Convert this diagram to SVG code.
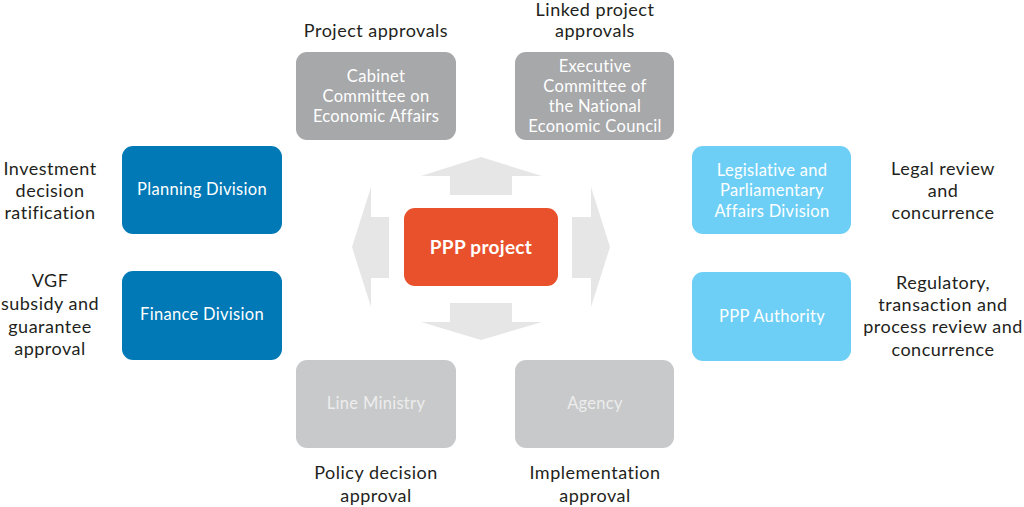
<svg xmlns="http://www.w3.org/2000/svg" width="1024" height="507" viewBox="0 0 1024 507">
<style>
.lbl{font-family:Lato,"Liberation Sans",sans-serif;font-size:18px;letter-spacing:0.5px;fill:#231F20;text-anchor:middle}
.bt{font-family:Lato,"Liberation Sans",sans-serif;font-size:16.5px;letter-spacing:0.3px;fill:#FFFFFF;text-anchor:middle}
.lt{fill:#EDEDED}
.arrow{fill:#E6E6E6}
</style>
<rect width="1024" height="507" fill="#FFFFFF"/>
<g id="connectors">
<polygon class="arrow" points="450,195 450,176 421,176 481,157 542,176 512,176 512,195"/>
<polygon class="arrow" points="450,303 450,322 421,322 481,340 542,322 512,322 512,303"/>
<polygon class="arrow" points="389,217 371,217 371,187 352,247 371,307 371,278 389,278"/>
<polygon class="arrow" points="572,217 591,217 591,187 610,247 591,307 591,278 572,278"/>
</g>
<g id="center">
<rect x="404" y="208" width="154" height="78" rx="11" fill="#E8512B"/>
<text class="bt" x="481" y="254" style="font-size:19px;font-weight:bold">PPP project</text>
</g>
<g id="cabinet">
<rect x="296" y="52" width="160" height="88" rx="11" fill="#A7A8AA"/>
<text class="bt" x="376" y="82">Cabinet</text>
<text class="bt" x="376" y="102">Committee on</text>
<text class="bt" x="376" y="122">Economic Affairs</text>
<text class="lbl" x="376" y="37">Project approvals</text>
</g>
<g id="executive">
<rect x="515" y="52" width="159" height="88" rx="11" fill="#A7A8AA"/>
<text class="bt" x="595" y="72">Executive</text>
<text class="bt" x="595" y="92">Committee of</text>
<text class="bt" x="595" y="112">the National</text>
<text class="bt" x="595" y="132">Economic Council</text>
<text class="lbl" x="595" y="16">Linked project</text>
<text class="lbl" x="595" y="37">approvals</text>
</g>
<g id="planning">
<rect x="122" y="146" width="160" height="88" rx="11" fill="#0079B6"/>
<text class="bt" x="202" y="195">Planning Division</text>
<text class="lbl" x="50" y="175">Investment</text>
<text class="lbl" x="50" y="197">decision</text>
<text class="lbl" x="50" y="219">ratification</text>
</g>
<g id="finance">
<rect x="122" y="271" width="160" height="89" rx="11" fill="#0079B6"/>
<text class="bt" x="202" y="320">Finance Division</text>
<text class="lbl" x="50" y="287">VGF</text>
<text class="lbl" x="50" y="310">subsidy and</text>
<text class="lbl" x="50" y="333">guarantee</text>
<text class="lbl" x="50" y="355">approval</text>
</g>
<g id="legislative">
<rect x="692" y="146" width="159" height="88" rx="11" fill="#6DCFF6"/>
<text class="bt" x="772" y="176">Legislative and</text>
<text class="bt" x="772" y="196">Parliamentary</text>
<text class="bt" x="772" y="217">Affairs Division</text>
<text class="lbl" x="943" y="175">Legal review</text>
<text class="lbl" x="943" y="197">and</text>
<text class="lbl" x="943" y="219">concurrence</text>
</g>
<g id="pppauthority">
<rect x="692" y="272" width="159" height="89" rx="11" fill="#6DCFF6"/>
<text class="bt" x="772" y="322">PPP Authority</text>
<text class="lbl" x="943" y="289">Regulatory,</text>
<text class="lbl" x="943" y="311">transaction and</text>
<text class="lbl" x="943" y="333">process review and</text>
<text class="lbl" x="943" y="356">concurrence</text>
</g>
<g id="lineministry">
<rect x="296" y="360" width="160" height="88" rx="11" fill="#C8C9CA"/>
<text class="bt lt" x="376" y="409">Line Ministry</text>
<text class="lbl" x="376" y="479">Policy decision</text>
<text class="lbl" x="376" y="502">approval</text>
</g>
<g id="agency">
<rect x="515" y="360" width="159" height="88" rx="11" fill="#C8C9CA"/>
<text class="bt lt" x="595" y="409">Agency</text>
<text class="lbl" x="595" y="479">Implementation</text>
<text class="lbl" x="595" y="502">approval</text>
</g>
</svg>
